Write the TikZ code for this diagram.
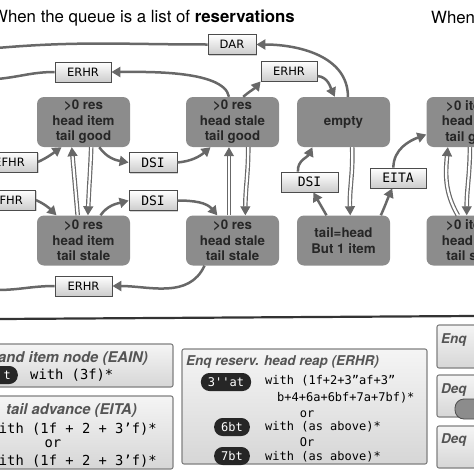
\documentclass[tikz,border=0pt]{standalone}
\usepackage{fontspec}
\setmainfont{TeX Gyre Heros}
\setmonofont{DejaVu Sans Mono}
\newfontfamily\labelfont{DejaVu Sans}
\usetikzlibrary{arrows.meta,shadows}
\definecolor{stategray}{HTML}{8C8C8C}
\definecolor{arrowgray}{HTML}{686868}
\definecolor{legendgray}{HTML}{555555}
\begin{document}
\begin{tikzpicture}
[x=1pt,y=1pt,
  statedecorate/.style={shape=rectangle,rounded corners=7pt,fill=stategray,
    text=black!85,minimum width=93pt,minimum height=50pt,inner sep=0pt,
    align=center,font=\bfseries\fontsize{13.3}{15.5}\selectfont},%
  labeldecorate/.style={shape=rectangle,draw=black!70,line width=0.8pt,
    top color=white,bottom color=black!20,minimum height=20pt,inner sep=0pt,
    drop shadow={shadow xshift=1pt,shadow yshift=-1.2pt,opacity=0.35}},%
  namelabel/.style={labeldecorate,font=\labelfont\fontsize{11.5}{11.5}\selectfont},%
  codelabel/.style={labeldecorate,font=\ttfamily\fontsize{13}{13}\selectfont},%
  arrowdecorate/.style={draw=arrowgray,line width=2.5pt,
    -{Triangle[length=9pt,width=10pt]}},%
  doubledecorate/.style={draw=arrowgray,line width=1.2pt,double=white,
    double distance=2.2pt,-{Triangle[length=9pt,width=10pt]}},%
  linedecorate/.style={draw=arrowgray,line width=2.5pt},%
  legenddecorate/.style={draw=black!50,line width=1.1pt,rounded corners=2pt,
    top color=black!4,bottom color=black!16},%
  legendtitle/.style={inner sep=0pt,text=legendgray,
    font=\bfseries\itshape\fontsize{13.5}{13.5}\selectfont},%
  legendbig/.style={legendtitle,font=\bfseries\itshape\fontsize{14.8}{14.8}\selectfont},%
  codetext/.style={inner sep=0pt,font=\ttfamily\fontsize{12}{12}\selectfont},%
  codebig/.style={inner sep=0pt,font=\ttfamily\fontsize{13.8}{13.8}\selectfont},%
  pilldecorate/.style={shape=rectangle,rounded corners=8.5pt,fill=black!85,
    text=white,minimum height=18pt,inner xsep=7pt,inner ysep=0pt,
    font=\ttfamily\fontsize{12}{12}\selectfont}]
\path[use as bounding box] (0,0) rectangle (474,-474);
\clip (0,0) rectangle (474,-474);
%% titles
\node (titleleft) [anchor=west,inner sep=0pt,font=\fontsize{16.8}{16.8}\selectfont]
  at (-8,-18) {When the queue is a list of \textbf{reservations}};
\node (titleright) [anchor=west,inner sep=0pt,font=\fontsize{16.8}{16.8}\selectfont]
  at (431,-18) {When};
%% states
\foreach \nodename/\x/\y/\statetext in {A/83.5/122/{>0 res\\head item\\tail good},
  B/232.5/122/{>0 res\\head stale\\tail good}, C/343.5/122/{empty},
  D/473/122/{>0 items\\head item\\tail good},
  E/83.5/240.5/{>0 res\\head item\\tail stale},
  F/232.5/240.5/{>0 res\\head stale\\tail stale},
  G/343.5/240.5/{tail=head\\But 1 item},
  H/473/240.5/{>0 items\\head item\\tail stale}}
{
  \node (\nodename) at (\x,-\y) [statedecorate] {\statetext};
}
%% transition labels
\foreach \nodename/\x/\y/\wide/\kind/\labeltext in {DAR/232/44.5/48/namelabel/DAR,
  ERHRa/83/72/56/namelabel/ERHR, ERHRb/289/71/56/namelabel/ERHR,
  EFHRa/9.5/162/56/namelabel/EFHR, EFHRb/7.5/200/56/namelabel/EFHR,
  DSIa/153/162.5/48/codelabel/DSI, DSIb/153/200.5/48/codelabel/DSI,
  DSIc/309.5/182/57/codelabel/DSI, EITA/398/178/56/codelabel/EITA,
  ERHRc/83.5/286/57/namelabel/ERHR}
{
  \node (\nodename) at (\x,-\y) [\kind,minimum width=\wide pt] {\labeltext};
}
\coordinate (darend) at (-3,-48);
\coordinate (erhraend) at (-3,-79);
\coordinate (erhrcend) at (-3,-290);
%% transitions
\path
\foreach \startnode/\endnode/\outangle/\inangle/\loose in {C.80/DAR.east/90/0/1,
  B.98/ERHRa.east/100/0/0.6, B.67/ERHRb.south west/40/230/1,
  ERHRb.-10/C.109/-5/115/1, EFHRa.east/A.-131/25/215/1,
  EFHRb.east/E.137/-25/135/1, A.-58/DSIa.west/-55/170/1,
  DSIa.east/B.-131/5/-140/1, E.56/DSIb.west/55/195/1,
  DSIb.east/F.121/0/130/1, F.-138/ERHRc.east/-115/0/1,
  G.124/DSIc.-70/120/-60/1, DSIc.138/C.-141/95/-115/1,
  G.34/EITA.-119/66/246/1, EITA.114/D.195/90/200/1}
{
  (\startnode) edge[arrowdecorate,out=\outangle,in=\inangle,looseness=\loose] (\endnode)
};
\path
\foreach \startnode/\endnode/\outangle/\inangle in {E.103/A.-115/95/-85,
  A.-73/E.80/-92/88, F.98/B.-98/90/-90, B.-58/F.63/-90/90,
  C.-71/G.75/-88/92, H.121/D.-135/120/-95, D.-97/H.104/-90/90}
{
  (\startnode) edge[doubledecorate,out=\outangle,in=\inangle] (\endnode)
};
\path
\foreach \startnode/\endnode/\inangle in {DAR.west/darend/5,
  ERHRa.west/erhraend/5, ERHRc.west/erhrcend/0}
{
  (\startnode) edge[linedecorate,out=180,in=\inangle] (\endnode)
};
%% separator
\draw[black!80,line width=2.2pt] (0,-319) -- (474,-316);
%% legend boxes
\foreach \x/\y/\xx/\yy in {-5/344/173/387, -5/396/173/469, 182/349/427/464,
  437/325/490/368, 437/375/490/417, 437/426/490/468}
{
  \draw[legenddecorate] (\x,-\y) rectangle (\xx,-\yy);
}
%% legend texts
\node (eaintitle) [legendbig,anchor=east] at (148,-358) {and item node (EAIN)};
\node (eainpill) [pilldecorate,anchor=east,text width=24pt,align=right]
  at (18,-375) {t};
\node (eaincode) [codebig,anchor=west] at (30,-375) {with (3f)*};
\node (eitatitle) [legendbig,anchor=east] at (137,-410) {tail advance (EITA)};
\node (eitacodea) [codebig,anchor=east] at (157,-429) {with (1f + 2 + 3’f)*};
\node (eitaor) [codebig] at (53,-444) {or};
\node (eitacodeb) [codebig,anchor=east] at (157,-461) {with (1f + 2 + 3’f)*};
\node (erhrtitle) [legendtitle,anchor=west] at (186,-362) {Enq reserv. head reap (ERHR)};
\node (erhrpilla) [pilldecorate] at (226,-382) {3\textquotesingle\textquotesingle at};
\node (erhrcodea) [codetext,anchor=west] at (265,-381) {with (1f+2+3”af+3”};
\node (erhrcodeb) [codetext,anchor=west] at (277,-398) {b+4+6a+6bf+7a+7bf)*};
\node (erhror) [codetext] at (307,-414) {or};
\node (erhrpillb) [pilldecorate] at (232,-427) {6bt};
\node (erhrcodec) [codetext,anchor=west] at (265,-427) {with (as above)*};
\node (erhrOr) [codetext] at (307,-442) {Or};
\node (erhrpillc) [pilldecorate] at (232,-456) {7bt};
\node (erhrcoded) [codetext,anchor=west] at (265,-457) {with (as above)*};
\node (enqtitle) [legendtitle,anchor=west] at (441,-340) {Enq};
\node (deqtitlea) [legendtitle,anchor=west] at (441,-390) {Deq};
\node (deqpill) [shape=rectangle,rounded corners=9pt,fill=black!45,draw=black!70,
  line width=0.8pt,minimum width=36pt,minimum height=20pt] at (473,-409) {};
\node (deqtitleb) [legendtitle,anchor=west] at (441,-440) {Deq};
\end{tikzpicture}
\end{document}
